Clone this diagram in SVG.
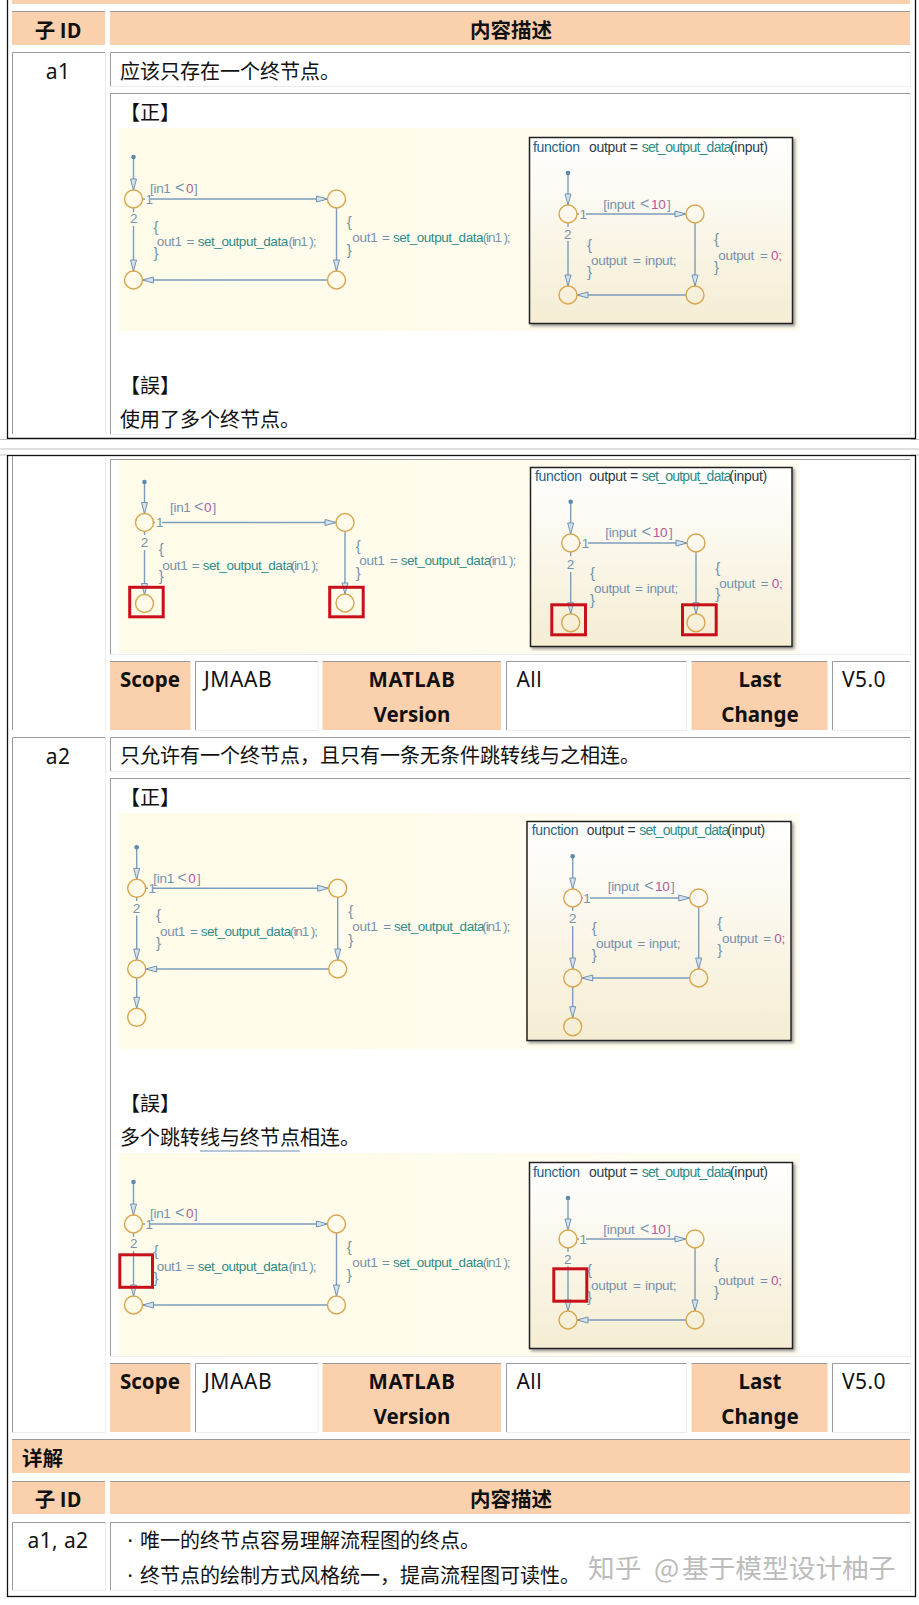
<svg xmlns="http://www.w3.org/2000/svg" width="919" height="1605" viewBox="0 0 919 1605">
<style>
text{font-family:"Noto Sans","Noto Sans CJK SC",sans-serif;fill:#111;font-size:20px}
.zh{font-family:"Noto Sans CJK SC","Noto Sans",sans-serif}
.b{font-weight:700;font-size:20.5px}
.l{font-size:21px;letter-spacing:.4px}
.w6{letter-spacing:.6px}
.m{text-anchor:middle}
.o{fill:#fbd0ad}
.w{fill:#fff}
.e{fill:none;stroke:#ececec;stroke-width:1}
.g{fill:none;stroke:#9a9a9a;stroke-width:1}
.k{fill:none;stroke:#111;stroke-width:1.3}
.bg{fill:url(#pale)}
.sub{fill:url(#fade);stroke:#222;stroke-width:1.5;filter:url(#sh)}
.j{fill:none;stroke:#d9a54e;stroke-width:1.4}
.d{fill:#5f88ad}
.c{fill:none;stroke:#7c9dbb;stroke-width:1.4;marker-end:url(#ah)}
.n{fill:none;stroke:#7c9dbb;stroke-width:1.4}
.r{fill:none;stroke:#c8101a;stroke-width:3}
.s text,.s{font-family:"Liberation Sans",Arial,sans-serif;font-size:13.5px;fill:#7592ad;letter-spacing:-.3px}
.s .te{fill:#2f8b88;letter-spacing:-.45px}
.s .pa{letter-spacing:-1.1px}
.s .mg{fill:#b8569f}
.s .bl{fill:#1f5f86;font-size:14px}
.s .dk{fill:#2c3c48;font-size:14px;letter-spacing:-.3px}
.s .tt{fill:#2f8b88;font-size:14px;letter-spacing:-.75px}
.s .br{font-size:15px}
.s .lt{font-size:16px}
.wm{fill:#bcbcbc;font-size:26.7px}
</style>
<defs>
<linearGradient id="pale" x1="0" x2="1" y1="0" y2="0"><stop offset="0" stop-color="#fffbe9"/><stop offset="1" stop-color="#fffdf1"/></linearGradient>
<linearGradient id="fade" x1="0" x2="0" y1="0" y2="1"><stop offset="0" stop-color="#ffffff"/><stop offset="1" stop-color="#f5edd3"/></linearGradient>
<filter id="sh" x="-5%" y="-5%" width="112%" height="112%"><feDropShadow dx="2" dy="2" stdDeviation="1.6" flood-color="#555" flood-opacity=".6"/></filter>
<marker id="ah" markerUnits="userSpaceOnUse" markerWidth="13" markerHeight="9" refX="12" refY="4.5" orient="auto"><path d="M1,1.5 L12,4.5 L1,7.5 Z" fill="#d6e2ea" stroke="#6f93b5" stroke-width="1"/></marker>
</defs>
<rect width="919" height="1605" fill="#fff"/>

<g id="page-frame">
<path d="M0,449 H919 M0,439.5 H7 M0,455 H7 M911,439.5 H919 M911,455 H919" fill="none" stroke="#c2c2c2"/>
<path class="k" d="M7.5,0 V438.5 H915.5 V0"/>
<rect class="k" x="7.5" y="455.5" width="908" height="1141"/>
</g>

<g id="cells">
<rect class="o" x="12" y="0" width="898" height="4"/>
<g id="head-1"><rect class="o" x="12" y="11" width="93" height="34"/><rect class="o" x="110" y="11" width="800" height="34"/><path class="g" d="M12,11.5 H105 M110,11.5 H910"/><text class="b m zh" x="58" y="38">子 ID</text><text class="b m zh" x="511" y="38">内容描述</text></g>
<g id="cell-a1-id"><path class="e" d="M105.5,52 V434"/><path class="g" d="M12.5,434 V52.5 H105"/><text class="l m" x="58" y="78.500">a1</text></g>
<g id="cell-a1-rule"><path class="e" d="M110,86.5 H910.5 V52"/><path class="g" d="M110.5,86 V52.5 H910"/><text class="zh" x="120" y="79">应该只存在一个终节点。</text></g>
<g id="cell-a1-example"><path class="e" d="M110,434.5 H910.5 V93"/><path class="g" d="M110.5,434 V93.5 H910"/><text class="zh" x="120" y="120">【正】</text><text class="zh" x="120" y="393">【誤】</text><text class="zh" x="120" y="427">使用了多个终节点。</text></g>

<g id="cell-a1-id-cont"><path class="e" d="M105.5,456 V730"/><path class="g" d="M12.5,456 V730"/></g>
<g id="cell-a1-example-cont"><path class="e" d="M110,654.5 H910.5 V459"/><path class="g" d="M110.5,654 V459.5 H910"/></g>
<g id="scope-1">
<rect class="o" x="110" y="662" width="80.5" height="68"/><rect class="o" x="322.5" y="662" width="178.5" height="68"/><rect class="o" x="691.5" y="662" width="136" height="68"/>
<path class="g" d="M110,661.5 H190.5 M195.5,730 V661.5 H318 M322.5,661.5 H501 M506.5,730 V661.5 H686.5 M691.5,661.5 H827.5 M832.5,730 V661.5 H910"/>
<path class="e" d="M195,730.5 H318 V662 M506,730.5 H686.5 V662 M832,730.5 H910.5 V662"/>
<text class="b" x="120" y="687">Scope</text><text class="l w6" x="204" y="687">JMAAB</text>
<text class="b m w6" x="412" y="687">MATLAB</text><text class="b m" x="412" y="722">Version</text>
<text class="l" x="516.5" y="687">All</text>
<text class="b m" x="760" y="687">Last</text><text class="b m" x="760" y="722">Change</text>
<text class="l" x="842" y="687">V5.0</text>
</g>

<g id="cell-a2-id"><path class="e" d="M105.5,737 V1432 M12,1432.5 H105"/><path class="g" d="M12.5,1432 V737.5 H105"/><text class="l m" x="58" y="763.500">a2</text></g>
<g id="cell-a2-rule"><path class="e" d="M110,771.5 H910.5 V737"/><path class="g" d="M110.5,771 V737.5 H910"/><text class="zh" x="120" y="763">只允许有一个终节点，且只有一条无条件跳转线与之相连。</text></g>
<g id="cell-a2-example"><path class="e" d="M110,1356.5 H910.5 V778"/><path class="g" d="M110.5,1356 V778.5 H910"/><text class="zh" x="120" y="805">【正】</text><text class="zh" x="120" y="1111">【誤】</text><text class="zh" x="120" y="1145">多个跳转线与终节点相连。</text><path d="M200,1151 H300" fill="none" stroke="#6c8db0" stroke-width="1.2"/></g>
<g id="scope-2">
<rect class="o" x="110" y="1364" width="80.5" height="68"/><rect class="o" x="322.5" y="1364" width="178.5" height="68"/><rect class="o" x="691.5" y="1364" width="136" height="68"/>
<path class="g" d="M110,1363.5 H190.5 M195.5,1432 V1363.5 H318 M322.5,1363.5 H501 M506.5,1432 V1363.5 H686.5 M691.5,1363.5 H827.5 M832.5,1432 V1363.5 H910"/>
<path class="e" d="M195,1432.5 H318 V1364 M506,1432.5 H686.5 V1364 M832,1432.5 H910.5 V1364"/>
<text class="b" x="120" y="1389">Scope</text><text class="l w6" x="204" y="1389">JMAAB</text>
<text class="b m w6" x="412" y="1389">MATLAB</text><text class="b m" x="412" y="1424">Version</text>
<text class="l" x="516.5" y="1389">All</text>
<text class="b m" x="760" y="1389">Last</text><text class="b m" x="760" y="1424">Change</text>
<text class="l" x="842" y="1389">V5.0</text>
</g>
<g id="detail-title"><rect class="o" x="12" y="1439" width="898" height="34"/><path class="g" d="M12,1439.5 H910"/><text class="b zh" x="22" y="1466">详解</text></g>
<g id="head-2"><rect class="o" x="12" y="1481" width="93" height="33"/><rect class="o" x="110" y="1481" width="800" height="33"/><path class="g" d="M12,1481.5 H105 M110,1481.5 H910"/><text class="b m zh" x="58" y="1507">子 ID</text><text class="b m zh" x="511" y="1507">内容描述</text></g>
<g id="cell-detail-id"><path class="e" d="M12,1590.5 H105.5 V1522"/><path class="g" d="M12.5,1590 V1522.5 H105"/><text class="l m" x="58" y="1548">a1, a2</text></g>
<g id="cell-detail-text"><path class="e" d="M110,1590.5 H910.5 V1522"/><path class="g" d="M110.5,1590 V1522.5 H910"/><text x="127.5" y="1548">·</text><text class="zh" x="140" y="1548">唯一的终节点容易理解流程图的终点。</text><text x="127.5" y="1583">·</text><text class="zh" x="140" y="1583">终节点的绘制方式风格统一，提高流程图可读性。</text></g>
<text id="watermark" class="zh wm" x="588" y="1578">知乎<tspan x="654">@</tspan><tspan x="682">基于模型设计柚子</tspan></text>
</g>

<g id="backgrounds">
<rect class="bg" x="119" y="128" width="681" height="203"/>
<rect class="bg" x="119" y="460" width="681" height="193"/>
<rect class="bg" x="119" y="813" width="681" height="236"/>
<rect class="bg" x="119" y="1153" width="681" height="203"/>
<rect class="sub" x="529.5" y="137.5" width="263" height="186"/>
<rect class="sub" x="530.5" y="467.5" width="261.5" height="179"/>
<rect class="sub" x="527" y="821.5" width="264" height="219"/>
<rect class="sub" x="529.5" y="1162.5" width="263" height="186"/>
</g>

<g id="connectors">
<g id="conn-a1-ok">
<path class="c" d="M133.5,157 V190"/><path class="n" d="M142.5,199 H145 M133.5,208 V212"/><path class="c" d="M150,199 H327.5"/><path class="c" d="M133.5,226 V271"/><path class="c" d="M336.5,208 V271"/><path class="c" d="M327.5,280 H142.5"/>
<path class="c" d="M568,173 V205"/><path class="n" d="M577,214 H579 M568,223 V227"/><path class="c" d="M586,214 H686"/><path class="c" d="M568,241 V286"/><path class="c" d="M695,223 V286"/><path class="c" d="M686,295 H577"/>
</g>
<g id="conn-a1-ng">
<path class="c" d="M144.5,482 V513.5"/><path class="n" d="M153.5,522.5 H155 M144.5,531.5 V535"/><path class="c" d="M162,522.5 H336"/><path class="c" d="M144.5,550 V594.5"/><path class="c" d="M345,531.5 V594"/>
<path class="c" d="M570.7,502 V534"/><path class="n" d="M579.7,543 H581 M570.7,552 V556"/><path class="c" d="M588,543 H687"/><path class="c" d="M570.7,572 V613.7"/><path class="c" d="M696,552 V613.7"/>
</g>
<g id="conn-a2-ok">
<path class="c" d="M136.7,847.3 V879.3"/><path class="n" d="M145.7,888.3 H148 M136.7,897.3 V901"/><path class="c" d="M153,888.3 H328.7"/><path class="c" d="M136.7,915.5 V960"/><path class="c" d="M337.7,897.3 V960"/><path class="c" d="M328.7,969 H145.7"/><path class="c" d="M136.7,978 V1008.3"/>
<path class="c" d="M572.7,856.3 V889"/><path class="n" d="M581.7,898 H583 M572.7,907 V911"/><path class="c" d="M590,898 H689.7"/><path class="c" d="M572.7,926 V969"/><path class="c" d="M698.7,907 V969"/><path class="c" d="M689.7,978 H581.7"/><path class="c" d="M572.7,987 V1017.7"/>
</g>
<g id="conn-a2-ng" transform="translate(0,1025)">
<path class="c" d="M133.5,157 V190"/><path class="n" d="M142.5,199 H145 M133.5,208 V212"/><path class="c" d="M150,199 H327.5"/><path class="c" d="M133.5,226 V271"/><path class="c" d="M336.5,208 V271"/><path class="c" d="M327.5,280 H142.5"/>
<path class="c" d="M568,173 V205"/><path class="n" d="M577,214 H579 M568,223 V227"/><path class="c" d="M586,214 H686"/><path class="c" d="M568,241 V286"/><path class="c" d="M695,223 V286"/><path class="c" d="M686,295 H577"/>
</g>
</g>

<g id="chart-a1-ok" class="s">
<g id="n1-1"><circle class="d" cx="133.5" cy="157" r="2.3"/><circle class="j" cx="133.5" cy="199" r="9"/><circle class="j" cx="336.5" cy="199" r="9"/><circle class="j" cx="133.5" cy="280" r="9"/><circle class="j" cx="336.5" cy="280" r="9"/></g>
<text y="193"><tspan x="150">[in1</tspan><tspan x="175" class="lt">&lt;</tspan><tspan x="186" class="mg">0</tspan><tspan x="194">]</tspan></text>
<text x="145.500" y="203.500">1</text><text x="130" y="223">2</text>
<text class="br" x="153.500" y="232">{</text><text y="246"><tspan x="156.7">out1</tspan><tspan x="186.500">=</tspan><tspan x="197.700" class="te">set_output_data</tspan><tspan x="288.500" class="pa">(in1 );</tspan></text><text class="br" x="153.500" y="258">}</text>
<text class="br" x="346.7" y="227">{</text><text y="242"><tspan x="352.300">out1</tspan><tspan x="382">=</tspan><tspan x="393" class="te">set_output_data</tspan><tspan x="482.700" class="pa">(in1 );</tspan></text><text class="br" x="346.7" y="255">}</text>
<text y="152"><tspan x="533" class="bl">function</tspan><tspan x="589" class="dk">output =</tspan><tspan x="641.700" class="tt">set_output_data</tspan><tspan x="730" class="dk">(input)</tspan></text>
<g id="n1-2"><circle class="d" cx="568" cy="173" r="2.3"/><circle class="j" cx="568" cy="214" r="9"/><circle class="j" cx="695" cy="214" r="9"/><circle class="j" cx="568" cy="295" r="9"/><circle class="j" cx="695" cy="295" r="9"/></g>
<text y="208.500"><tspan x="603.300">[input</tspan><tspan x="640" class="lt">&lt;</tspan><tspan x="651" class="mg">10</tspan><tspan x="667">]</tspan></text>
<text x="579.500" y="218.500">1</text><text x="564" y="238.500">2</text>
<text class="br" x="587" y="250">{</text><text y="264.500"><tspan x="591">output</tspan><tspan x="633">=</tspan><tspan x="645">input;</tspan></text><text class="br" x="587" y="277">}</text>
<text class="br" x="714" y="244">{</text><text y="259.500"><tspan x="718.300">output</tspan><tspan x="760">=</tspan><tspan x="771" class="mg">0;</tspan></text><text class="br" x="714" y="272">}</text>
</g>

<g id="chart-a1-ng" class="s">
<g id="n2-1"><circle class="d" cx="144.5" cy="482" r="2.3"/><circle class="j" cx="144.5" cy="522.5" r="9"/><circle class="j" cx="345" cy="522.5" r="9"/><circle class="j" cx="144.5" cy="603.5" r="9"/><circle class="j" cx="345" cy="603" r="9"/></g>
<text y="512"><tspan x="170">[in1</tspan><tspan x="194" class="lt">&lt;</tspan><tspan x="204" class="mg">0</tspan><tspan x="212.500">]</tspan></text>
<text x="156" y="527">1</text><text x="140.700" y="546.500">2</text>
<text class="br" x="158.700" y="554">{</text><text y="569.500"><tspan x="162.300">out1</tspan><tspan x="191.700">=</tspan><tspan x="202.700" class="te">set_output_data</tspan><tspan x="290.700" class="pa">(in1 );</tspan></text><text class="br" x="158.700" y="581">}</text>
<text class="br" x="355.700" y="550.500">{</text><text y="565"><tspan x="359.300">out1</tspan><tspan x="390">=</tspan><tspan x="400.700" class="te">set_output_data</tspan><tspan x="488.300" class="pa">(in1 );</tspan></text><text class="br" x="355.700" y="578">}</text>
<text y="481"><tspan x="535" class="bl">function</tspan><tspan x="589.300" class="dk">output =</tspan><tspan x="641.700" class="tt">set_output_data</tspan><tspan x="729.300" class="dk">(input)</tspan></text>
<g id="n2-2"><circle class="d" cx="570.7" cy="501.7" r="2.3"/><circle class="j" cx="570.7" cy="543" r="9"/><circle class="j" cx="696" cy="543" r="9"/><circle class="j" cx="570.7" cy="622.7" r="9"/><circle class="j" cx="696" cy="622.7" r="9"/></g>
<text y="537"><tspan x="605.300">[input</tspan><tspan x="641.700" class="lt">&lt;</tspan><tspan x="652.700" class="mg">10</tspan><tspan x="669">]</tspan></text>
<text x="581.700" y="547.500">1</text><text x="566.700" y="568.500">2</text>
<text class="br" x="590" y="578">{</text><text y="592.800"><tspan x="594">output</tspan><tspan x="635">=</tspan><tspan x="646.700">input;</tspan></text><text class="br" x="590" y="605">}</text>
<text class="br" x="715.300" y="572.700">{</text><text y="588"><tspan x="719.300">output</tspan><tspan x="760.700">=</tspan><tspan x="771.700" class="mg">0;</tspan></text><text class="br" x="715.300" y="599">}</text>
<g id="marks-a1"><rect class="r" x="129.700" y="587.300" width="33.500" height="29.500"/><rect class="r" x="329.700" y="587.300" width="33.500" height="29.500"/><rect class="r" x="551.800" y="604.800" width="33.700" height="30"/><rect class="r" x="682.500" y="604.800" width="33.700" height="30"/></g>
</g>

<g id="chart-a2-ok" class="s">
<g id="n3-1"><circle class="d" cx="136.7" cy="847.3" r="2.3"/><circle class="j" cx="136.7" cy="888.3" r="9"/><circle class="j" cx="337.7" cy="888.3" r="9"/><circle class="j" cx="136.7" cy="969" r="9"/><circle class="j" cx="337.7" cy="969" r="9"/><circle class="j" cx="136.7" cy="1017.3" r="9"/></g>
<text y="883"><tspan x="153.300">[in1</tspan><tspan x="177.300" class="lt">&lt;</tspan><tspan x="188.300" class="mg">0</tspan><tspan x="197">]</tspan></text>
<text x="148.500" y="893">1</text><text x="132.700" y="912.500">2</text>
<text class="br" x="156" y="920">{</text><text y="935.500"><tspan x="160">out1</tspan><tspan x="190">=</tspan><tspan x="200.700" class="te">set_output_data</tspan><tspan x="290" class="pa">(in1 );</tspan></text><text class="br" x="156" y="948">}</text>
<text class="br" x="348.300" y="916">{</text><text y="931"><tspan x="352.300">out1</tspan><tspan x="383.300">=</tspan><tspan x="394" class="te">set_output_data</tspan><tspan x="482.300" class="pa">(in1 );</tspan></text><text class="br" x="348.300" y="945">}</text>
<text y="835"><tspan x="531.700" class="bl">function</tspan><tspan x="586.700" class="dk">output =</tspan><tspan x="639.300" class="tt">set_output_data</tspan><tspan x="727.300" class="dk">(input)</tspan></text>
<g id="n3-2"><circle class="d" cx="572.7" cy="856.3" r="2.3"/><circle class="j" cx="572.7" cy="898" r="9"/><circle class="j" cx="698.7" cy="898" r="9"/><circle class="j" cx="572.7" cy="978" r="9"/><circle class="j" cx="698.7" cy="978" r="9"/><circle class="j" cx="572.7" cy="1026.7" r="9"/></g>
<text y="891"><tspan x="607.700">[input</tspan><tspan x="644.300" class="lt">&lt;</tspan><tspan x="655" class="mg">10</tspan><tspan x="671">]</tspan></text>
<text x="583.300" y="902.500">1</text><text x="569" y="923">2</text>
<text class="br" x="591.700" y="933">{</text><text y="948"><tspan x="596">output</tspan><tspan x="637.300">=</tspan><tspan x="649">input;</tspan></text><text class="br" x="591.700" y="960">}</text>
<text class="br" x="717.300" y="928">{</text><text y="943"><tspan x="722">output</tspan><tspan x="763.300">=</tspan><tspan x="774.300" class="mg">0;</tspan></text><text class="br" x="717.300" y="955">}</text>
</g>

<g id="chart-a2-ng" class="s" transform="translate(0,1025)">
<g id="n4-1"><circle class="d" cx="133.5" cy="157" r="2.3"/><circle class="j" cx="133.5" cy="199" r="9"/><circle class="j" cx="336.5" cy="199" r="9"/><circle class="j" cx="133.5" cy="280" r="9"/><circle class="j" cx="336.5" cy="280" r="9"/></g>
<text y="193"><tspan x="150">[in1</tspan><tspan x="175" class="lt">&lt;</tspan><tspan x="186" class="mg">0</tspan><tspan x="194">]</tspan></text>
<text x="145.500" y="203.500">1</text><text x="130" y="223">2</text>
<text class="br" x="153.500" y="231">{</text><text y="246"><tspan x="156.7">out1</tspan><tspan x="186.500">=</tspan><tspan x="197.700" class="te">set_output_data</tspan><tspan x="288.500" class="pa">(in1 );</tspan></text><text class="br" x="153.500" y="258">}</text>
<text class="br" x="346.7" y="227">{</text><text y="242"><tspan x="352.300">out1</tspan><tspan x="382">=</tspan><tspan x="393" class="te">set_output_data</tspan><tspan x="482.700" class="pa">(in1 );</tspan></text><text class="br" x="346.7" y="255">}</text>
<text y="152"><tspan x="533" class="bl">function</tspan><tspan x="589" class="dk">output =</tspan><tspan x="641.700" class="tt">set_output_data</tspan><tspan x="730" class="dk">(input)</tspan></text>
<g id="n4-2"><circle class="d" cx="568" cy="173" r="2.3"/><circle class="j" cx="568" cy="214" r="9"/><circle class="j" cx="695" cy="214" r="9"/><circle class="j" cx="568" cy="295" r="9"/><circle class="j" cx="695" cy="295" r="9"/></g>
<text y="208.500"><tspan x="603.300">[input</tspan><tspan x="640" class="lt">&lt;</tspan><tspan x="651" class="mg">10</tspan><tspan x="667">]</tspan></text>
<text x="579.500" y="218.500">1</text><text x="564" y="238.500">2</text>
<text class="br" x="587" y="250">{</text><text y="264.500"><tspan x="591">output</tspan><tspan x="633">=</tspan><tspan x="645">input;</tspan></text><text class="br" x="587" y="277">}</text>
<text class="br" x="714" y="244">{</text><text y="259.500"><tspan x="718.300">output</tspan><tspan x="760">=</tspan><tspan x="771" class="mg">0;</tspan></text><text class="br" x="714" y="272">}</text>
<g id="marks-a2"><rect class="r" x="119.800" y="229.800" width="32.700" height="32.500"/><rect class="r" x="553.800" y="243.800" width="33" height="32.400"/></g>
</g>
</svg>
